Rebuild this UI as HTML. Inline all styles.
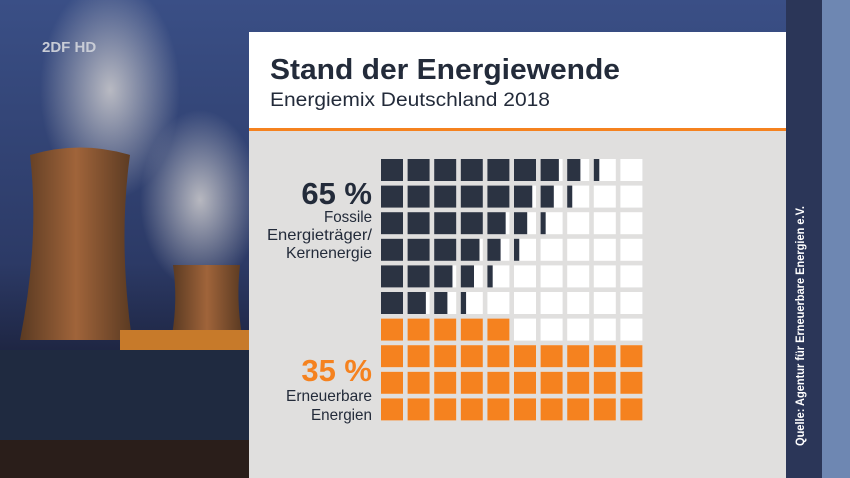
<!DOCTYPE html>
<html><head><meta charset="utf-8"><style>
html,body{margin:0;padding:0;width:850px;height:478px;overflow:hidden;background:#2a3552}
svg{display:block}
text{font-family:"Liberation Sans",sans-serif}
</style></head><body>
<svg id="chart" width="850" height="478" viewBox="0 0 850 478">
<defs>
<linearGradient id="sky" x1="0" y1="0" x2="0" y2="1">
<stop offset="0" stop-color="#3a4f86"/><stop offset="0.55" stop-color="#2c3a66"/><stop offset="0.75" stop-color="#1d2440"/><stop offset="1" stop-color="#141826"/>
</linearGradient>
<linearGradient id="tower" x1="0" y1="0" x2="1" y2="0">
<stop offset="0" stop-color="#5a3a22"/><stop offset="0.5" stop-color="#a0643a"/><stop offset="1" stop-color="#5a3a22"/>
</linearGradient>
<radialGradient id="steam" cx="0.5" cy="0.5" r="0.5"><stop offset="0" stop-color="#d9d6d4" stop-opacity="0.8"/><stop offset="1" stop-color="#d9d6d4" stop-opacity="0"/></radialGradient>
</defs>
<g>
<rect x="0" y="0" width="850" height="478" fill="url(#sky)"/>
<ellipse cx="110" cy="90" rx="70" ry="110" fill="url(#steam)"/>
<ellipse cx="200" cy="200" rx="60" ry="90" fill="url(#steam)"/>
<path d="M30 155 Q80 140 130 155 Q118 240 132 340 L20 340 Q40 240 30 155Z" fill="url(#tower)"/>
<path d="M173 265 L240 265 Q236 300 242 335 L172 335 Q178 300 173 265Z" fill="url(#tower)"/>
<rect x="120" y="330" width="130" height="30" fill="#c77a2a"/>
<rect x="0" y="350" width="250" height="128" fill="#1f2a40"/>
<rect x="0" y="440" width="250" height="38" fill="#2a1e1a"/>
<rect x="822" y="0" width="28" height="478" fill="#6e87b2"/>
<rect x="786" y="0" width="36" height="478" fill="#2b3658"/>
<text x="42" y="52" font-size="15" font-weight="bold" fill="#c8ccd6">2DF HD</text>
</g>
<g>
<rect x="249" y="32" width="537" height="96" fill="#ffffff"/>
<rect x="249" y="128" width="537" height="3" fill="#f5821f"/>
<rect x="249" y="131" width="537" height="347" fill="#e0dfde"/>
<text x="270" y="79" font-size="29" font-weight="bold" fill="#232b3a" textLength="350" lengthAdjust="spacingAndGlyphs">Stand der Energiewende</text>
<text x="270" y="106" font-size="19" fill="#232b3a" textLength="280" lengthAdjust="spacingAndGlyphs">Energiemix Deutschland 2018</text>
<text x="372" y="204" font-size="31" font-weight="bold" fill="#232b3a" text-anchor="end">65 %</text>
<text x="372" y="222" font-size="16" fill="#232b3a" text-anchor="end" textLength="48" lengthAdjust="spacingAndGlyphs">Fossile</text>
<text x="372" y="240" font-size="16" fill="#232b3a" text-anchor="end" textLength="105" lengthAdjust="spacingAndGlyphs">Energieträger/</text>
<text x="372" y="258" font-size="16" fill="#232b3a" text-anchor="end" textLength="86" lengthAdjust="spacingAndGlyphs">Kernenergie</text>
<text x="372" y="381" font-size="31" font-weight="bold" fill="#f5821f" text-anchor="end">35 %</text>
<text x="372" y="401" font-size="16" fill="#232b3a" text-anchor="end" textLength="86" lengthAdjust="spacingAndGlyphs">Erneuerbare</text>
<text x="372" y="420" font-size="16" fill="#232b3a" text-anchor="end" textLength="61" lengthAdjust="spacingAndGlyphs">Energien</text>
<g id="grid"></g>
</g>
<text transform="translate(804,446) rotate(-90)" font-size="11.5" font-weight="bold" fill="#ffffff" textLength="240" lengthAdjust="spacingAndGlyphs">Quelle: Agentur für Erneuerbare Energien e.V.</text>
</svg>
<script>
// Waffle data: fill fraction of each cell (0..1) per row, category per row
const rowCategory = ["fossil","fossil","fossil","fossil","fossil","fossil","mixed","renewable","renewable","renewable"];
const fossilFill = [
 [1,1,1,1,1,1,0.83,0.6,0.25,0],
 [1,1,1,1,1,0.83,0.6,0.23,0,0],
 [1,1,1,1,0.83,0.6,0.23,0,0,0],
 [1,1,1,0.85,0.6,0.24,0,0,0,0],
 [1,1,0.83,0.6,0.24,0,0,0,0,0],
 [1,0.83,0.6,0.24,0,0,0,0,0,0]
];
const renewableCounts = [5,10,10,10];
const x0=381,y0=159,pitch=26.6,cell=22;
const NS="http://www.w3.org/2000/svg";
const g=document.getElementById('grid');
function xPos(c){return x0+c*pitch;}
function yPos(r){return y0+r*pitch;}
function rect(x,y,w,h,fill){const e=document.createElementNS(NS,'rect');e.setAttribute('x',x);e.setAttribute('y',y);e.setAttribute('width',w);e.setAttribute('height',h);e.setAttribute('fill',fill);g.appendChild(e);return e;}
for(let r=0;r<10;r++){
 for(let c=0;c<10;c++){
  const bg=rect(xPos(c),yPos(r),cell,cell,'#ffffff');
  
  
 }
}
fossilFill.forEach((row,r)=>row.forEach((f,c)=>{
 if(f<=0)return;
 const e=rect(xPos(c),yPos(r),cell*f,cell,'#2b3342');
 
 
}));
renewableCounts.forEach((n,i)=>{
 const r=fossilFill.length+i;
 for(let c=0;c<n;c++){
  const e=rect(xPos(c),yPos(r),cell,cell,'#f5821f');
  
  
 }
});
</script>
</body></html>
